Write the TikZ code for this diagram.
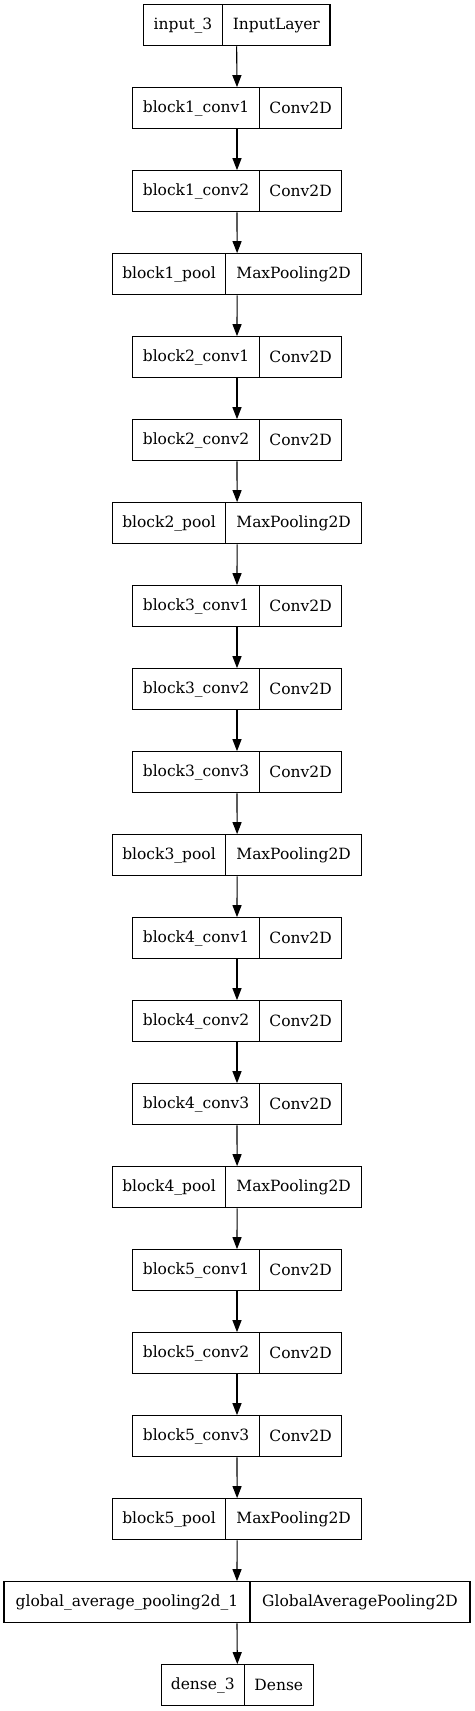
\documentclass[tikz,border=0pt]{standalone}
\usepackage{fontspec}
\setmainfont{DejaVu Serif}
\usetikzlibrary{arrows.meta,fit}
\begin{document}
\begin{tikzpicture}[x=1pt,y=-1pt,
  cell/.style={draw=none, minimum height=41pt, inner sep=0pt, outer sep=0pt, font=\fontsize{15.5}{18}\selectfont},
  flow/.style={-{Triangle[length=12pt,width=9pt]}, line width=1.1pt},
  rowbox/.style={draw, line width=1.1pt, inner sep=0pt, outer sep=0.55pt},
  divider/.style={line width=1.1pt}]
\useasboundingbox (0,0) rectangle (474,1711);
\foreach \i/\a/\b/\lw/\rw/\d in {
  0/input\_3/InputLayer/79.4/107.3/222.7,
  1/block1\_conv1/Conv2D/127.2/81.8/259.7,
  2/block1\_conv2/Conv2D/127.2/81.8/259.7,
  3/block1\_pool/MaxPooling2D/113/136.2/225.5,
  4/block2\_conv1/Conv2D/127.2/81.8/259.7,
  5/block2\_conv2/Conv2D/127.2/81.8/259.7,
  6/block2\_pool/MaxPooling2D/113/136.2/225.5,
  7/block3\_conv1/Conv2D/127.2/81.8/259.7,
  8/block3\_conv2/Conv2D/127.2/81.8/259.7,
  9/block3\_conv3/Conv2D/127.2/81.8/259.7,
  10/block3\_pool/MaxPooling2D/113/136.2/225.5,
  11/block4\_conv1/Conv2D/127.2/81.8/259.7,
  12/block4\_conv2/Conv2D/127.2/81.8/259.7,
  13/block4\_conv3/Conv2D/127.2/81.8/259.7,
  14/block4\_pool/MaxPooling2D/113/136.2/225.5,
  15/block5\_conv1/Conv2D/127.2/81.8/259.7,
  16/block5\_conv2/Conv2D/127.2/81.8/259.7,
  17/block5\_conv3/Conv2D/127.2/81.8/259.7,
  18/block5\_pool/MaxPooling2D/113/136.2/225.5,
  19/global\_average\_pooling2d\_1/GlobalAveragePooling2D/246/220/250,
  20/dense\_3/Dense/83/69/244.3}{
  \pgfmathsetmacro\t{4.7+83*\i}
  \node[cell, minimum width=\lw pt, anchor=north east] (L\i) at (\d,\t) {\a};
  \node[cell, minimum width=\rw pt, anchor=north west] (R\i) at (\d,\t) {\b};
  \node[rowbox, fit=(L\i)(R\i)] (row\i) {};
  \draw[divider] (L\i.north east) -- (L\i.south east);
}
\foreach \i [evaluate=\i as \j using int(\i+1)] in {0,...,19}
  \draw[flow] (row\i.south) -- (row\j.north);
\end{tikzpicture}
\end{document}
